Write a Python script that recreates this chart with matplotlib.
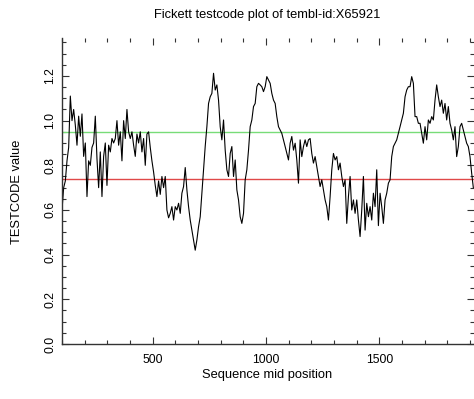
import numpy as np
import matplotlib
matplotlib.use("Agg")
import matplotlib.pyplot as plt
from matplotlib.ticker import MultipleLocator

plt.rcParams['font.family'] = ['Liberation Sans', 'DejaVu Sans']

# testcode values, left to right (sequence mid positions 100..1914)
seg1 = [0.60, 0.70, 0.73, 0.82, 0.88, 1.11, 1.00, 1.05, 0.98, 0.89,
        1.02, 0.93, 1.03, 0.84, 0.90, 0.66, 0.82, 0.80, 0.88, 0.90,
        1.02, 0.83, 0.70, 0.86, 0.66, 0.84, 0.90, 0.71, 0.89, 0.86,
        0.92, 0.90, 0.92, 1.00, 0.89, 0.95, 0.82, 1.00, 0.92, 1.05,
        0.95, 0.92, 0.95, 0.89, 0.84, 0.94, 0.90, 0.95, 0.86, 0.92,
        0.80, 0.94, 0.95, 0.88, 0.82, 0.77, 0.71, 0.66, 0.73, 0.67,
        0.75, 0.70, 0.75, 0.60, 0.565]
seg2 = [0.585, 0.615, 0.555, 0.615, 0.60, 0.63, 0.585, 0.675, 0.705, 0.79,
        0.69, 0.615, 0.555, 0.51, 0.466, 0.42, 0.466, 0.525, 0.57, 0.675,
        0.78, 0.885, 0.973, 1.077, 1.107, 1.122, 1.212, 1.137, 1.16, 1.092,
        0.973, 0.914, 1.003, 0.868, 0.78, 0.75, 0.853, 0.884, 0.75, 0.824,
        0.69, 0.645, 0.57, 0.54, 0.585, 0.735, 0.78, 0.868, 0.973, 1.003,
        1.063, 1.077, 1.152, 1.167, 1.16, 1.152, 1.13, 1.152, 1.197, 1.182,
        1.167, 1.122, 1.092]
seg3 = [1.077, 1.018, 0.973, 0.958, 0.943, 0.914, 0.884, 0.853, 0.824, 0.899,
        0.929, 0.868, 0.899, 0.824, 0.72, 0.914, 0.839, 0.884, 0.914, 0.884,
        0.914, 0.92, 0.853, 0.81, 0.839, 0.794, 0.75, 0.705, 0.735, 0.69,
        0.645, 0.615, 0.555, 0.66, 0.78, 0.853, 0.824, 0.839, 0.78, 0.81,
        0.75, 0.705, 0.735, 0.54, 0.66, 0.75, 0.60, 0.645, 0.585, 0.645,
        0.555, 0.481, 0.60, 0.75, 0.51, 0.63, 0.57, 0.615, 0.555, 0.675,
        0.615]
seg4 = [0.78, 0.53, 0.675, 0.615, 0.54, 0.645, 0.675, 0.72, 0.735, 0.839,
        0.884, 0.899, 0.914, 0.943, 0.973, 1.003, 1.033, 1.107, 1.137, 1.152,
        1.152, 1.197, 1.167, 1.018, 1.018, 0.988, 0.988, 0.943, 0.899, 0.973,
        0.914, 1.003, 0.988, 1.018, 1.003, 1.092, 1.16, 1.107, 1.063, 1.092,
        1.033, 1.077, 1.003, 1.063, 0.988, 0.958, 0.914, 0.973, 0.839, 0.884,
        0.973, 0.988, 0.958, 0.929, 0.899, 0.884, 0.839, 0.765, 0.70]
testcode = seg1 + seg2 + seg3 + seg4
pos_start, pos_end = 100, 1914
positions = np.linspace(pos_start, pos_end, len(testcode))

coding_level = 0.95
noncoding_level = 0.74

fig = plt.figure(figsize=(4.74, 3.99), dpi=100)
ax = fig.add_axes([62/474, 55/399, 412/474, 306/399])

ax.axhline(coding_level, color='#78dc78', lw=1.0)
ax.axhline(noncoding_level, color='#e04848', lw=1.0)
ax.plot(positions, testcode, color='black', lw=0.8)

ax.set_xlim(100, 1917)
ax.set_ylim(0, 1.37)
ax.xaxis.set_major_locator(MultipleLocator(500))
ax.xaxis.set_minor_locator(MultipleLocator(100))
ax.yaxis.set_major_locator(MultipleLocator(0.2))
ax.yaxis.set_minor_locator(MultipleLocator(0.05))
ax.tick_params(which='both', direction='in', top=True, right=True,
               width=0.8, color='#333333', labelsize=8.8)
ax.tick_params(which='major', length=5)
ax.tick_params(which='minor', length=3)
ax.tick_params(axis='y', pad=4)
ax.tick_params(axis='x', pad=7)
for lab in ax.get_yticklabels():
    lab.set_rotation(90)
    lab.set_va('center')
ax.yaxis.set_major_formatter(plt.FormatStrFormatter('%.1f'))
for s in ['top', 'right']:
    ax.spines[s].set_visible(False)
for s in ['left', 'bottom']:
    ax.spines[s].set_linewidth(1.0)
    ax.spines[s].set_color('#333333')

fig.text(0.563, 1 - 15/399, 'Fickett testcode plot of tembl-id:X65921',
         ha='center', va='center', fontsize=9.3)
fig.text(0.563, 1 - 375/399, 'Sequence mid position',
         ha='center', va='center', fontsize=9.3)
fig.text(0.036, 0.52, 'TESTCODE value', rotation=90,
         ha='center', va='center', fontsize=9.3)

plt.savefig('out.png', dpi=100, facecolor='w')
